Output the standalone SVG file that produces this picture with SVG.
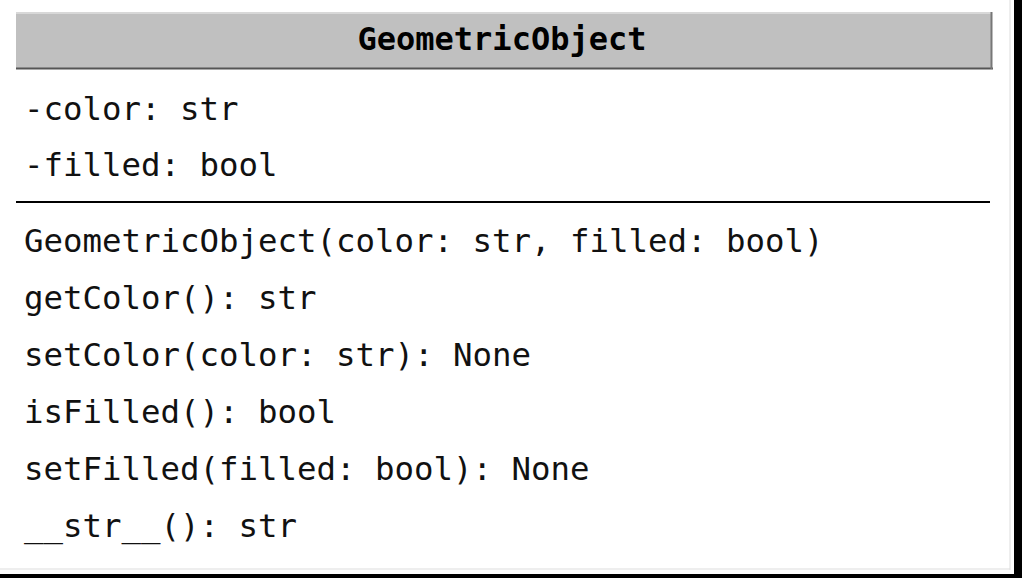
<svg xmlns="http://www.w3.org/2000/svg" width="1022" height="578" viewBox="0 0 1022 578">
<style>
.t{font-family:"DejaVu Sans Mono","Liberation Mono",monospace;font-size:32.4px;fill:#111}
.h{font-family:"DejaVu Sans Mono","Liberation Mono",monospace;font-size:32px;font-weight:bold;fill:#000}
</style>
<rect x="0" y="0" width="1022" height="578" fill="#fff"/>
<rect x="1014" y="0" width="8" height="578" fill="#000"/>
<rect x="0" y="574" width="1022" height="4" fill="#000"/>
<line x1="1010" y1="0" x2="1010" y2="570" stroke="#ddd" stroke-width="1"/>
<line x1="0" y1="569" x2="1010" y2="569" stroke="#ddd" stroke-width="1"/>
<g id="class-GeometricObject">
<rect x="16" y="12" width="976" height="57" fill="#c0c0c0"/>
<line x1="16" y1="13" x2="992" y2="13" stroke="#d8d8d8" stroke-width="2"/>
<line x1="16" y1="68.5" x2="993" y2="68.5" stroke="#555" stroke-width="2"/>
<line x1="991.5" y1="12" x2="991.5" y2="69" stroke="#777" stroke-width="2"/>
<text class="h" x="502" y="50" text-anchor="middle">GeometricObject</text>
<text class="t" x="24" y="120">-color: str</text>
<text class="t" x="24" y="176">-filled: bool</text>
<line x1="16" y1="202" x2="990" y2="202" stroke="#000" stroke-width="2"/>
<text class="t" x="24" y="252">GeometricObject(color: str, filled: bool)</text>
<text class="t" x="24" y="309">getColor(): str</text>
<text class="t" x="24" y="366">setColor(color: str): None</text>
<text class="t" x="24" y="423">isFilled(): bool</text>
<text class="t" x="24" y="480">setFilled(filled: bool): None</text>
<text class="t" x="24" y="537">__str__(): str</text>
</g>
</svg>
